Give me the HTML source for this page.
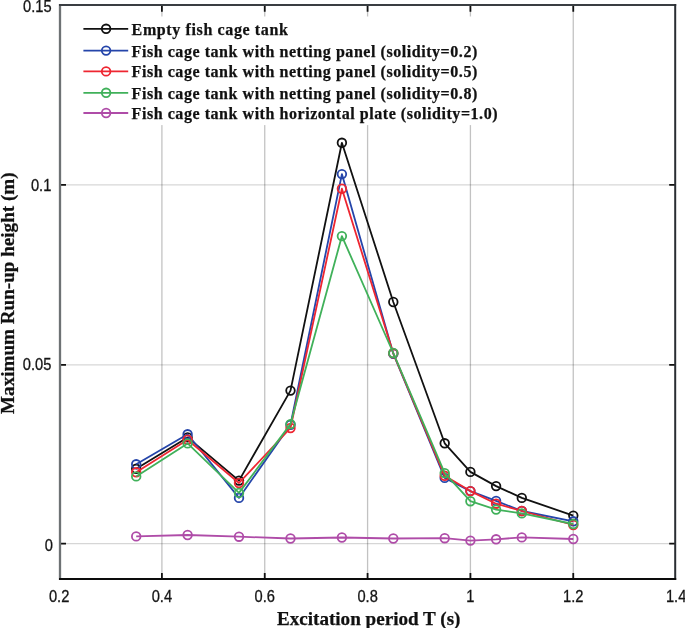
<!DOCTYPE html>
<html><head><meta charset="utf-8"><title>Run-up chart</title>
<style>html,body{margin:0;padding:0;background:#fff}svg{display:block}
.tk{font-family:"Liberation Sans",sans-serif;font-size:16.3px;fill:#151515;stroke:#151515;stroke-width:0.3px}
.lg{font-family:"Liberation Serif",serif;font-weight:bold;font-size:16px;letter-spacing:0.55px;fill:#111;stroke:#111;stroke-width:0.25px}
.ax{font-family:"Liberation Serif",serif;font-weight:bold;font-size:19.12px;fill:#111;stroke:#111;stroke-width:0.25px}
</style></head><body>
<svg width="685" height="628" viewBox="0 0 685 628">
<rect width="685" height="628" fill="#fff"/>
<g stroke="#000" stroke-width="1.3" fill="none">
<line stroke-opacity="0.24" x1="161.90" y1="5.0" x2="161.90" y2="579.0"/>
<line stroke-opacity="0.24" x1="264.74" y1="5.0" x2="264.74" y2="579.0"/>
<line stroke-opacity="0.24" x1="367.58" y1="5.0" x2="367.58" y2="579.0"/>
<line stroke-opacity="0.24" x1="470.42" y1="5.0" x2="470.42" y2="579.0"/>
<line stroke-opacity="0.24" x1="573.26" y1="5.0" x2="573.26" y2="579.0"/>
<line stroke-opacity="0.16" x1="60.0" y1="543.65" x2="675.2" y2="543.65"/>
<line stroke-opacity="0.16" x1="60.0" y1="364.90" x2="675.2" y2="364.90"/>
<line stroke-opacity="0.16" x1="60.0" y1="184.90" x2="675.2" y2="184.90"/>
</g>
<g stroke="#111111" stroke-width="1.8" fill="none" stroke-linejoin="round">
<polyline points="136.2,468.8 187.6,437.4 239.0,480.6 290.5,390.6 341.9,142.8 393.3,302.0 444.7,443.3 470.4,471.9 496.1,486.1 521.8,497.9 573.3,515.6"/>
<circle cx="136.2" cy="468.8" r="4.3"/>
<circle cx="187.6" cy="437.4" r="4.3"/>
<circle cx="239.0" cy="480.6" r="4.3"/>
<circle cx="290.5" cy="390.6" r="4.3"/>
<circle cx="341.9" cy="142.8" r="4.3"/>
<circle cx="393.3" cy="302.0" r="4.3"/>
<circle cx="444.7" cy="443.3" r="4.3"/>
<circle cx="470.4" cy="471.9" r="4.3"/>
<circle cx="496.1" cy="486.1" r="4.3"/>
<circle cx="521.8" cy="497.9" r="4.3"/>
<circle cx="573.3" cy="515.6" r="4.3"/>
</g>
<g stroke="#2545aa" stroke-width="1.8" fill="none" stroke-linejoin="round">
<polyline points="136.2,464.3 187.6,434.3 239.0,497.9 290.5,424.8 341.9,174.1 393.3,353.7 444.7,477.9 470.4,491.1 496.1,500.9 521.8,511.0 573.3,521.3"/>
<circle cx="136.2" cy="464.3" r="4.3"/>
<circle cx="187.6" cy="434.3" r="4.3"/>
<circle cx="239.0" cy="497.9" r="4.3"/>
<circle cx="290.5" cy="424.8" r="4.3"/>
<circle cx="341.9" cy="174.1" r="4.3"/>
<circle cx="393.3" cy="353.7" r="4.3"/>
<circle cx="444.7" cy="477.9" r="4.3"/>
<circle cx="470.4" cy="491.1" r="4.3"/>
<circle cx="496.1" cy="500.9" r="4.3"/>
<circle cx="521.8" cy="511.0" r="4.3"/>
<circle cx="573.3" cy="521.3" r="4.3"/>
</g>
<g stroke="#ee2631" stroke-width="1.8" fill="none" stroke-linejoin="round">
<polyline points="136.2,472.3 187.6,439.7 239.0,483.0 290.5,428.0 341.9,188.7 393.3,353.3 444.7,475.8 470.4,491.1 496.1,503.7 521.8,511.0 573.3,525.0"/>
<circle cx="136.2" cy="472.3" r="4.3"/>
<circle cx="187.6" cy="439.7" r="4.3"/>
<circle cx="239.0" cy="483.0" r="4.3"/>
<circle cx="290.5" cy="428.0" r="4.3"/>
<circle cx="341.9" cy="188.7" r="4.3"/>
<circle cx="393.3" cy="353.3" r="4.3"/>
<circle cx="444.7" cy="475.8" r="4.3"/>
<circle cx="470.4" cy="491.1" r="4.3"/>
<circle cx="496.1" cy="503.7" r="4.3"/>
<circle cx="521.8" cy="511.0" r="4.3"/>
<circle cx="573.3" cy="525.0" r="4.3"/>
</g>
<g stroke="#40b15a" stroke-width="1.8" fill="none" stroke-linejoin="round">
<polyline points="136.2,476.4 187.6,443.4 239.0,492.9 290.5,424.1 341.9,236.1 393.3,353.0 444.7,473.1 470.4,501.2 496.1,509.6 521.8,513.4 573.3,524.0"/>
<circle cx="136.2" cy="476.4" r="4.3"/>
<circle cx="187.6" cy="443.4" r="4.3"/>
<circle cx="239.0" cy="492.9" r="4.3"/>
<circle cx="290.5" cy="424.1" r="4.3"/>
<circle cx="341.9" cy="236.1" r="4.3"/>
<circle cx="393.3" cy="353.0" r="4.3"/>
<circle cx="444.7" cy="473.1" r="4.3"/>
<circle cx="470.4" cy="501.2" r="4.3"/>
<circle cx="496.1" cy="509.6" r="4.3"/>
<circle cx="521.8" cy="513.4" r="4.3"/>
<circle cx="573.3" cy="524.0" r="4.3"/>
</g>
<g stroke="#af4ca8" stroke-width="1.8" fill="none" stroke-linejoin="round">
<polyline points="136.2,536.4 187.6,535.0 239.0,536.7 290.5,538.5 341.9,537.5 393.3,538.5 444.7,538.2 470.4,540.6 496.1,539.3 521.8,537.4 573.3,539.0"/>
<circle cx="136.2" cy="536.4" r="4.3"/>
<circle cx="187.6" cy="535.0" r="4.3"/>
<circle cx="239.0" cy="536.7" r="4.3"/>
<circle cx="290.5" cy="538.5" r="4.3"/>
<circle cx="341.9" cy="537.5" r="4.3"/>
<circle cx="393.3" cy="538.5" r="4.3"/>
<circle cx="444.7" cy="538.2" r="4.3"/>
<circle cx="470.4" cy="540.6" r="4.3"/>
<circle cx="496.1" cy="539.3" r="4.3"/>
<circle cx="521.8" cy="537.4" r="4.3"/>
<circle cx="573.3" cy="539.0" r="4.3"/>
</g>
<rect x="78" y="16.5" width="425" height="108.6" fill="#fff"/>
<g stroke="#111" stroke-width="1.8" fill="none">
<path d="M161.90 579.0v-6M161.90 5.0v6.7"/>
<path d="M264.74 579.0v-6M264.74 5.0v6.7"/>
<path d="M367.58 579.0v-6M367.58 5.0v6.7"/>
<path d="M470.42 579.0v-6M470.42 5.0v6.7"/>
<path d="M573.26 579.0v-6M573.26 5.0v6.7"/>
<path d="M60.0 543.65h6M675.2 543.65h-6"/>
<path d="M60.0 364.90h6M675.2 364.90h-6"/>
<path d="M60.0 184.90h6M675.2 184.90h-6"/>
</g>
<line x1="60.0" y1="4.1" x2="60.0" y2="580.1" stroke="#6e7274" stroke-width="2.3"/>
<line x1="59.0" y1="5.0" x2="676.2" y2="5.0" stroke="#3a3e42" stroke-width="1.8"/>
<line x1="675.2" y1="4.1" x2="675.2" y2="580.1" stroke="#2a2e32" stroke-width="2"/>
<line x1="59.0" y1="579.0" x2="676.2" y2="579.0" stroke="#0c0c0c" stroke-width="2.2"/>
<g class="tk" text-anchor="middle">
<text transform="translate(59.1 601.6) scale(0.9 1)">0.2</text>
<text transform="translate(161.9 601.6) scale(0.9 1)">0.4</text>
<text transform="translate(264.7 601.6) scale(0.9 1)">0.6</text>
<text transform="translate(367.6 601.6) scale(0.9 1)">0.8</text>
<text transform="translate(470.4 601.6) scale(0.9 1)">1</text>
<text transform="translate(573.3 601.6) scale(0.9 1)">1.2</text>
<text transform="translate(676.1 601.6) scale(0.9 1)">1.4</text>
</g>
<g class="tk" text-anchor="end">
<text transform="translate(52.8 550.9) scale(0.9 1)">0</text>
<text transform="translate(51.3 370.3) scale(0.9 1)">0.05</text>
<text transform="translate(51.3 191.1) scale(0.9 1)">0.1</text>
<text transform="translate(51.6 11.7) scale(0.9 1)">0.15</text>
</g>
<g stroke="#111111" stroke-width="1.8" fill="none"><line x1="83.4" y1="28.8" x2="128.2" y2="28.8"/><circle cx="106.1" cy="28.8" r="4.3"/></g>
<text class="lg" style="letter-spacing:0.62px" transform="translate(131.6 34.7) scale(1 1)">Empty fish cage tank</text>
<g stroke="#2545aa" stroke-width="1.8" fill="none"><line x1="83.4" y1="50.6" x2="128.2" y2="50.6"/><circle cx="106.1" cy="50.6" r="4.3"/></g>
<text class="lg" transform="translate(131.6 56.5) scale(1 1)">Fish cage tank with netting panel (solidity=0.2)</text>
<g stroke="#ee2631" stroke-width="1.8" fill="none"><line x1="83.4" y1="71.4" x2="128.2" y2="71.4"/><circle cx="106.1" cy="71.4" r="4.3"/></g>
<text class="lg" transform="translate(131.6 77.3) scale(1 1)">Fish cage tank with netting panel (solidity=0.5)</text>
<g stroke="#40b15a" stroke-width="1.8" fill="none"><line x1="83.4" y1="92.8" x2="128.2" y2="92.8"/><circle cx="106.1" cy="92.8" r="4.3"/></g>
<text class="lg" transform="translate(131.6 98.7) scale(1 1)">Fish cage tank with netting panel (solidity=0.8)</text>
<g stroke="#af4ca8" stroke-width="1.8" fill="none"><line x1="83.4" y1="113.0" x2="128.2" y2="113.0"/><circle cx="106.1" cy="113.0" r="4.3"/></g>
<text class="lg" transform="translate(131.6 118.9) scale(1 1)">Fish cage tank with horizontal plate (solidity=1.0)</text>
<text class="ax" text-anchor="middle" x="368.7" y="624.7">Excitation period T (s)</text>
<text class="ax" text-anchor="middle" transform="translate(14.2 293.2) rotate(-90)">Maximum Run-up height (m)</text>
</svg>
</body></html>
